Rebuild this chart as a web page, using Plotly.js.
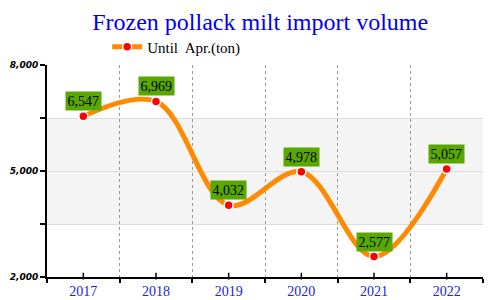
<!DOCTYPE html>
<html><head><meta charset="utf-8">
<script src="https://cdn.plot.ly/plotly-3.0.1.min.js"></script>
<style>html,body{margin:0;padding:0;background:#fff}#c{width:500px;height:300px}</style>
</head><body><div id="c"></div>
<script>
const years = ['2017','2018','2019','2020','2021','2022'];
const values = [6547, 6969, 4032, 4978, 2577, 5057];
const labels = ['6,547','6,969','4,032','4,978','2,577','5,057'];
const seriesName = 'Until  Apr.(ton)';
const yTickVals = [2000, 3500, 5000, 6500, 8000];
const yTickText = ['2,000', '', '5,000', '', '8,000'];

const trace = {
  x: years, y: values, type: 'scatter', mode: 'lines+markers', name: seriesName,
  line: {color: '#ff8a00', width: 5, shape: 'spline', smoothing: 1},
  marker: {color: '#ff0000', size: 9, line: {color: '#ffffff', width: 1.5}},
  cliponaxis: false
};

const annotations = [];
years.forEach(function (yr, i) {
  annotations.push({
    x: i, y: values[i], xref: 'x', yref: 'y', text: labels[i], showarrow: false,
    yanchor: 'bottom', yshift: 5, bgcolor: '#58a800', borderpad: 1.5,
    font: {family: 'Liberation Serif', size: 14, color: '#000000'}
  });
});

const shapes = [
  {type: 'rect', xref: 'paper', yref: 'y', x0: 0, x1: 1, y0: 3500, y1: 6500,
   fillcolor: '#f4f4f4', line: {width: 0}, layer: 'below'}
];
years.forEach(function (yr, i) {
  shapes.push({type: 'line', xref: 'x', yref: 'paper', x0: i, x1: i,
    y0: -0.012, y1: 0.02, line: {color: '#000', width: 1.5}});
});

const layout = {
  width: 500, height: 300,
  margin: {l: 47, r: 17, t: 65, b: 23},
  paper_bgcolor: '#ffffff', plot_bgcolor: '#ffffff',
  title: {text: 'Frozen pollack milt import volume', x: 0.489, xref: 'paper', y: 0.927, yref: 'container',
    xanchor: 'center', yanchor: 'middle', font: {family: 'Liberation Serif', size: 24, color: '#0000ee'}},
  showlegend: true,
  legend: {orientation: 'h', x: 0.138, y: 1.085, xanchor: 'left', yanchor: 'middle',
    font: {family: 'Liberation Serif', size: 15, color: '#000'}, bgcolor: 'rgba(0,0,0,0)'},
  xaxis: {type: 'category', range: [-0.5, 5.5], tickson: 'boundaries', showgrid: true,
    gridcolor: '#9a9a9a', griddash: 'dot', gridwidth: 1,
    showline: true, linecolor: '#000', linewidth: 2, ticks: 'outside', ticklen: 4,
    tickcolor: '#000', tickwidth: 1.5, zeroline: false,
    tickfont: {family: 'Liberation Serif', size: 14, color: '#2222dd'}},
  yaxis: {range: [2000, 8000], tickvals: yTickVals, ticktext: yTickText, showgrid: true,
    gridcolor: '#dddddd', gridwidth: 1, showline: true, linecolor: '#000', linewidth: 2,
    ticks: 'outside', ticklen: 5, tickcolor: '#000', tickwidth: 1.5, zeroline: false,
    tickfont: {family: 'DejaVu Sans', size: 9, color: '#000', style: 'italic', weight: 'bold'}},
  shapes: shapes, annotations: annotations
};

Plotly.newPlot('c', [trace], layout, {displayModeBar: false});
</script></body></html>
